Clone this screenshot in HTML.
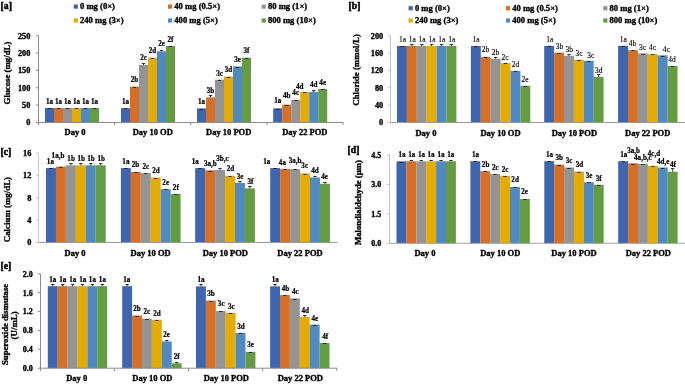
<!DOCTYPE html>
<html><head><meta charset="utf-8"><title>Figure</title>
<style>
html,body{margin:0;padding:0;background:#fff;}
body{width:685px;height:384px;overflow:hidden;}
svg{display:block;will-change:transform;}
svg text{font-family:"Liberation Serif", serif;fill:#000;stroke:#000;stroke-width:0.35px;}
svg text.nl{stroke-width:0.12px;}
svg text.bl{stroke-width:0.22px;}
svg text.tag{stroke-width:0.55px;}
</style></head>
<body>
<svg width="685" height="384" viewBox="0 0 685 384">
<rect width="685" height="384" fill="#fff"/>
<rect x="45.00" y="108.00" width="9.00" height="14.50" fill="#3E65AF"/>
<rect x="54.00" y="108.00" width="9.00" height="14.50" fill="#D57026"/>
<rect x="63.00" y="108.00" width="9.00" height="14.50" fill="#949494"/>
<rect x="72.00" y="108.00" width="9.00" height="14.50" fill="#E4AB00"/>
<rect x="81.00" y="108.00" width="9.00" height="14.50" fill="#508AC0"/>
<rect x="90.00" y="108.00" width="9.00" height="14.50" fill="#639C41"/>
<rect x="121.00" y="108.20" width="9.00" height="14.30" fill="#3E65AF"/>
<rect x="130.00" y="86.60" width="9.00" height="35.90" fill="#D57026"/>
<rect x="139.00" y="65.00" width="9.00" height="57.50" fill="#949494"/>
<rect x="148.00" y="57.60" width="9.00" height="64.90" fill="#E4AB00"/>
<rect x="157.00" y="51.30" width="9.00" height="71.20" fill="#508AC0"/>
<rect x="166.00" y="46.00" width="9.00" height="76.50" fill="#639C41"/>
<rect x="197.00" y="108.40" width="9.00" height="14.10" fill="#3E65AF"/>
<rect x="206.00" y="97.40" width="9.00" height="25.10" fill="#D57026"/>
<rect x="215.00" y="79.70" width="9.00" height="42.80" fill="#949494"/>
<rect x="224.00" y="76.50" width="9.00" height="46.00" fill="#E4AB00"/>
<rect x="233.00" y="66.40" width="9.00" height="56.10" fill="#508AC0"/>
<rect x="242.00" y="57.70" width="9.00" height="64.80" fill="#639C41"/>
<rect x="273.20" y="108.30" width="9.00" height="14.20" fill="#3E65AF"/>
<rect x="282.20" y="104.60" width="9.00" height="17.90" fill="#D57026"/>
<rect x="291.20" y="99.80" width="9.00" height="22.70" fill="#949494"/>
<rect x="300.20" y="91.90" width="9.00" height="30.60" fill="#E4AB00"/>
<rect x="309.20" y="91.90" width="9.00" height="30.60" fill="#508AC0"/>
<rect x="318.20" y="89.00" width="9.00" height="33.50" fill="#639C41"/>
<rect x="47.80" y="108" width="3.40" height="1" fill="#1a1a1a" fill-opacity="0.85"/>
<rect x="56.80" y="108" width="3.40" height="1" fill="#1a1a1a" fill-opacity="0.85"/>
<rect x="65.80" y="108" width="3.40" height="1" fill="#1a1a1a" fill-opacity="0.85"/>
<rect x="74.80" y="108" width="3.40" height="1" fill="#1a1a1a" fill-opacity="0.85"/>
<rect x="83.80" y="108" width="3.40" height="1" fill="#1a1a1a" fill-opacity="0.85"/>
<rect x="92.80" y="108" width="3.40" height="1" fill="#1a1a1a" fill-opacity="0.85"/>
<rect x="123.80" y="108" width="3.40" height="1" fill="#1a1a1a" fill-opacity="0.85"/>
<rect x="132.80" y="87" width="3.40" height="1" fill="#1a1a1a" fill-opacity="0.85"/>
<line x1="143.50" y1="65.00" x2="143.50" y2="63.20" stroke="#1a1a1a" stroke-width="0.9"/>
<rect x="141.80" y="63" width="3.40" height="1" fill="#1a1a1a" fill-opacity="0.85"/>
<rect x="150.80" y="58" width="3.40" height="1" fill="#1a1a1a" fill-opacity="0.85"/>
<line x1="161.50" y1="51.30" x2="161.50" y2="50.10" stroke="#1a1a1a" stroke-width="0.9"/>
<rect x="159.80" y="50" width="3.40" height="1" fill="#1a1a1a" fill-opacity="0.85"/>
<rect x="168.80" y="46" width="3.40" height="1" fill="#1a1a1a" fill-opacity="0.85"/>
<rect x="199.80" y="109" width="3.40" height="1" fill="#1a1a1a" fill-opacity="0.85"/>
<line x1="210.50" y1="97.40" x2="210.50" y2="95.20" stroke="#1a1a1a" stroke-width="0.9"/>
<rect x="208.80" y="95" width="3.40" height="1" fill="#1a1a1a" fill-opacity="0.85"/>
<rect x="217.80" y="80" width="3.40" height="1" fill="#1a1a1a" fill-opacity="0.85"/>
<rect x="226.80" y="77" width="3.40" height="1" fill="#1a1a1a" fill-opacity="0.85"/>
<rect x="235.80" y="67" width="3.40" height="1" fill="#1a1a1a" fill-opacity="0.85"/>
<rect x="244.80" y="58" width="3.40" height="1" fill="#1a1a1a" fill-opacity="0.85"/>
<rect x="276.00" y="109" width="3.40" height="1" fill="#1a1a1a" fill-opacity="0.85"/>
<rect x="285.00" y="105" width="3.40" height="1" fill="#1a1a1a" fill-opacity="0.85"/>
<rect x="294.00" y="100" width="3.40" height="1" fill="#1a1a1a" fill-opacity="0.85"/>
<rect x="303.00" y="92" width="3.40" height="1" fill="#1a1a1a" fill-opacity="0.85"/>
<line x1="313.70" y1="91.90" x2="313.70" y2="90.40" stroke="#1a1a1a" stroke-width="0.9"/>
<rect x="312.00" y="90" width="3.40" height="1" fill="#1a1a1a" fill-opacity="0.85"/>
<rect x="321.00" y="89" width="3.40" height="1" fill="#1a1a1a" fill-opacity="0.85"/>
<line x1="38.50" y1="35.70" x2="38.50" y2="125.10" stroke="#8C8C8C" stroke-width="1"/>
<line x1="38.50" y1="122.50" x2="343.20" y2="122.50" stroke="#8C8C8C" stroke-width="1"/>
<line x1="35.90" y1="122.50" x2="38.50" y2="122.50" stroke="#8C8C8C" stroke-width="1"/>
<text x="30.40" y="125.40" font-size="8.3" text-anchor="end" font-weight="bold" >0</text>
<line x1="35.90" y1="105.14" x2="38.50" y2="105.14" stroke="#8C8C8C" stroke-width="1"/>
<text x="30.40" y="108.04" font-size="8.3" text-anchor="end" font-weight="bold" >50</text>
<line x1="35.90" y1="87.78" x2="38.50" y2="87.78" stroke="#8C8C8C" stroke-width="1"/>
<text x="30.40" y="90.68" font-size="8.3" text-anchor="end" font-weight="bold" >100</text>
<line x1="35.90" y1="70.42" x2="38.50" y2="70.42" stroke="#8C8C8C" stroke-width="1"/>
<text x="30.40" y="73.32" font-size="8.3" text-anchor="end" font-weight="bold" >150</text>
<line x1="35.90" y1="53.06" x2="38.50" y2="53.06" stroke="#8C8C8C" stroke-width="1"/>
<text x="30.40" y="55.96" font-size="8.3" text-anchor="end" font-weight="bold" >200</text>
<line x1="35.90" y1="35.70" x2="38.50" y2="35.70" stroke="#8C8C8C" stroke-width="1"/>
<text x="30.40" y="38.60" font-size="8.3" text-anchor="end" font-weight="bold" >250</text>
<line x1="38.50" y1="122.50" x2="38.50" y2="125.10" stroke="#8C8C8C" stroke-width="1"/>
<line x1="114.70" y1="122.50" x2="114.70" y2="125.10" stroke="#8C8C8C" stroke-width="1"/>
<line x1="190.70" y1="122.50" x2="190.70" y2="125.10" stroke="#8C8C8C" stroke-width="1"/>
<line x1="266.90" y1="122.50" x2="266.90" y2="125.10" stroke="#8C8C8C" stroke-width="1"/>
<line x1="343.00" y1="122.50" x2="343.00" y2="125.10" stroke="#8C8C8C" stroke-width="1"/>
<text x="75.10" y="135.40" font-size="8.5" text-anchor="middle" font-weight="bold" >Day 0</text>
<text x="152.70" y="135.40" font-size="8.5" text-anchor="middle" font-weight="bold" >Day 10 OD</text>
<text x="228.70" y="135.40" font-size="8.5" text-anchor="middle" font-weight="bold" >Day 10 POD</text>
<text x="304.80" y="135.40" font-size="8.5" text-anchor="middle" font-weight="bold" >Day 22 POD</text>
<text transform="translate(10.40,73.00) rotate(-90)" font-size="8.8" text-anchor="middle" font-weight="bold">Glucose (mg/dL)</text>
<text transform="translate(49.50,103.70) scale(1.0,1.12)" font-size="7.1" text-anchor="middle" font-weight="bold" class="bl">1a</text>
<text transform="translate(58.50,103.70) scale(1.0,1.12)" font-size="7.1" text-anchor="middle" font-weight="bold" class="bl">1a</text>
<text transform="translate(67.50,103.70) scale(1.0,1.12)" font-size="7.1" text-anchor="middle" font-weight="bold" class="bl">1a</text>
<text transform="translate(76.50,103.70) scale(1.0,1.12)" font-size="7.1" text-anchor="middle" font-weight="bold" class="bl">1a</text>
<text transform="translate(85.50,103.70) scale(1.0,1.12)" font-size="7.1" text-anchor="middle" font-weight="bold" class="bl">1a</text>
<text transform="translate(94.50,103.70) scale(1.0,1.12)" font-size="7.1" text-anchor="middle" font-weight="bold" class="bl">1a</text>
<text transform="translate(125.50,103.70) scale(1.0,1.12)" font-size="7.1" text-anchor="middle" font-weight="bold" class="bl">1a</text>
<text transform="translate(134.50,82.00) scale(1.0,1.12)" font-size="7.1" text-anchor="middle" font-weight="bold" class="bl">2b</text>
<text transform="translate(143.50,60.00) scale(1.0,1.12)" font-size="7.1" text-anchor="middle" font-weight="bold" class="bl">2c</text>
<text transform="translate(152.50,52.80) scale(1.0,1.12)" font-size="7.1" text-anchor="middle" font-weight="bold" class="bl">2d</text>
<text transform="translate(161.50,46.40) scale(1.0,1.12)" font-size="7.1" text-anchor="middle" font-weight="bold" class="bl">2e</text>
<text transform="translate(170.50,41.70) scale(1.0,1.12)" font-size="7.1" text-anchor="middle" font-weight="bold" class="bl">2f</text>
<text transform="translate(201.50,103.80) scale(1.0,1.12)" font-size="7.1" text-anchor="middle" font-weight="bold" class="bl">1a</text>
<text transform="translate(210.50,92.80) scale(1.0,1.12)" font-size="7.1" text-anchor="middle" font-weight="bold" class="bl">3b</text>
<text transform="translate(219.50,75.50) scale(1.0,1.12)" font-size="7.1" text-anchor="middle" font-weight="bold" class="bl">3c</text>
<text transform="translate(228.50,71.90) scale(1.0,1.12)" font-size="7.1" text-anchor="middle" font-weight="bold" class="bl">3d</text>
<text transform="translate(237.50,61.50) scale(1.0,1.12)" font-size="7.1" text-anchor="middle" font-weight="bold" class="bl">3e</text>
<text transform="translate(246.50,53.30) scale(1.0,1.12)" font-size="7.1" text-anchor="middle" font-weight="bold" class="bl">3f</text>
<text transform="translate(277.70,103.40) scale(1.0,1.12)" font-size="7.1" text-anchor="middle" font-weight="bold" class="bl">1a</text>
<text transform="translate(286.70,97.60) scale(1.0,1.12)" font-size="7.1" text-anchor="middle" font-weight="bold" class="bl">4b</text>
<text transform="translate(295.70,95.20) scale(1.0,1.12)" font-size="7.1" text-anchor="middle" font-weight="bold" class="bl">4c</text>
<text transform="translate(299.70,88.90) scale(1.0,1.12)" font-size="7.1" text-anchor="middle" font-weight="bold" class="bl">4d</text>
<text transform="translate(313.70,87.00) scale(1.0,1.12)" font-size="7.1" text-anchor="middle" font-weight="bold" class="bl">4d</text>
<text transform="translate(322.70,84.60) scale(1.0,1.12)" font-size="7.1" text-anchor="middle" font-weight="bold" class="bl">4e</text>
<text x="0.60" y="8.80" font-size="9.7" text-anchor="start" font-weight="bold" class="tag">[a]</text>
<rect x="397.00" y="46.00" width="9.90" height="76.50" fill="#3E65AF"/>
<rect x="406.90" y="46.00" width="9.90" height="76.50" fill="#D57026"/>
<rect x="416.80" y="46.00" width="9.90" height="76.50" fill="#949494"/>
<rect x="426.70" y="46.00" width="9.90" height="76.50" fill="#E4AB00"/>
<rect x="436.60" y="46.00" width="9.90" height="76.50" fill="#508AC0"/>
<rect x="446.50" y="46.00" width="9.90" height="76.50" fill="#639C41"/>
<rect x="470.90" y="45.90" width="9.90" height="76.60" fill="#3E65AF"/>
<rect x="480.80" y="56.90" width="9.90" height="65.60" fill="#D57026"/>
<rect x="490.70" y="58.90" width="9.90" height="63.60" fill="#949494"/>
<rect x="500.60" y="63.10" width="9.90" height="59.40" fill="#E4AB00"/>
<rect x="510.50" y="70.90" width="9.90" height="51.60" fill="#508AC0"/>
<rect x="520.40" y="85.80" width="9.90" height="36.70" fill="#639C41"/>
<rect x="544.20" y="45.90" width="9.90" height="76.60" fill="#3E65AF"/>
<rect x="554.10" y="52.70" width="9.90" height="69.80" fill="#D57026"/>
<rect x="564.00" y="55.80" width="9.90" height="66.70" fill="#949494"/>
<rect x="573.90" y="59.70" width="9.90" height="62.80" fill="#E4AB00"/>
<rect x="583.80" y="60.80" width="9.90" height="61.70" fill="#508AC0"/>
<rect x="593.70" y="76.90" width="9.90" height="45.60" fill="#639C41"/>
<rect x="618.10" y="45.90" width="9.90" height="76.60" fill="#3E65AF"/>
<rect x="628.00" y="50.20" width="9.90" height="72.30" fill="#D57026"/>
<rect x="637.90" y="53.40" width="9.90" height="69.10" fill="#949494"/>
<rect x="647.80" y="54.10" width="9.90" height="68.40" fill="#E4AB00"/>
<rect x="657.70" y="55.30" width="9.90" height="67.20" fill="#508AC0"/>
<rect x="667.60" y="65.90" width="9.90" height="56.60" fill="#639C41"/>
<rect x="400.25" y="46" width="3.40" height="1" fill="#1a1a1a" fill-opacity="0.85"/>
<line x1="411.85" y1="46.00" x2="411.85" y2="44.60" stroke="#1a1a1a" stroke-width="0.9"/>
<rect x="410.15" y="44" width="3.40" height="1" fill="#1a1a1a" fill-opacity="0.85"/>
<line x1="421.75" y1="46.00" x2="421.75" y2="44.60" stroke="#1a1a1a" stroke-width="0.9"/>
<rect x="420.05" y="44" width="3.40" height="1" fill="#1a1a1a" fill-opacity="0.85"/>
<line x1="431.65" y1="46.00" x2="431.65" y2="44.60" stroke="#1a1a1a" stroke-width="0.9"/>
<rect x="429.95" y="44" width="3.40" height="1" fill="#1a1a1a" fill-opacity="0.85"/>
<line x1="441.55" y1="46.00" x2="441.55" y2="44.60" stroke="#1a1a1a" stroke-width="0.9"/>
<rect x="439.85" y="44" width="3.40" height="1" fill="#1a1a1a" fill-opacity="0.85"/>
<line x1="451.45" y1="46.00" x2="451.45" y2="44.60" stroke="#1a1a1a" stroke-width="0.9"/>
<rect x="449.75" y="44" width="3.40" height="1" fill="#1a1a1a" fill-opacity="0.85"/>
<rect x="474.15" y="46" width="3.40" height="1" fill="#1a1a1a" fill-opacity="0.85"/>
<rect x="484.05" y="57" width="3.40" height="1" fill="#1a1a1a" fill-opacity="0.85"/>
<line x1="495.65" y1="58.90" x2="495.65" y2="57.60" stroke="#1a1a1a" stroke-width="0.9"/>
<rect x="493.95" y="57" width="3.40" height="1" fill="#1a1a1a" fill-opacity="0.85"/>
<rect x="503.85" y="63" width="3.40" height="1" fill="#1a1a1a" fill-opacity="0.85"/>
<rect x="513.75" y="71" width="3.40" height="1" fill="#1a1a1a" fill-opacity="0.85"/>
<rect x="523.65" y="86" width="3.40" height="1" fill="#1a1a1a" fill-opacity="0.85"/>
<rect x="547.45" y="46" width="3.40" height="1" fill="#1a1a1a" fill-opacity="0.85"/>
<rect x="557.35" y="53" width="3.40" height="1" fill="#1a1a1a" fill-opacity="0.85"/>
<line x1="568.95" y1="55.80" x2="568.95" y2="54.50" stroke="#1a1a1a" stroke-width="0.9"/>
<rect x="567.25" y="54" width="3.40" height="1" fill="#1a1a1a" fill-opacity="0.85"/>
<rect x="577.15" y="60" width="3.40" height="1" fill="#1a1a1a" fill-opacity="0.85"/>
<rect x="587.05" y="61" width="3.40" height="1" fill="#1a1a1a" fill-opacity="0.85"/>
<line x1="598.65" y1="76.90" x2="598.65" y2="74.10" stroke="#1a1a1a" stroke-width="0.9"/>
<rect x="596.95" y="74" width="3.40" height="1" fill="#1a1a1a" fill-opacity="0.85"/>
<rect x="621.35" y="46" width="3.40" height="1" fill="#1a1a1a" fill-opacity="0.85"/>
<rect x="631.25" y="50" width="3.40" height="1" fill="#1a1a1a" fill-opacity="0.85"/>
<rect x="641.15" y="54" width="3.40" height="1" fill="#1a1a1a" fill-opacity="0.85"/>
<rect x="651.05" y="54" width="3.40" height="1" fill="#1a1a1a" fill-opacity="0.85"/>
<rect x="660.95" y="56" width="3.40" height="1" fill="#1a1a1a" fill-opacity="0.85"/>
<rect x="670.85" y="66" width="3.40" height="1" fill="#1a1a1a" fill-opacity="0.85"/>
<line x1="390.50" y1="35.70" x2="390.50" y2="122.50" stroke="#C4C4C4" stroke-width="1"/>
<line x1="390.50" y1="122.50" x2="685.00" y2="122.50" stroke="#9A9A9A" stroke-width="1"/>
<line x1="387.90" y1="122.50" x2="390.50" y2="122.50" stroke="#C4C4C4" stroke-width="1"/>
<text x="383.20" y="125.40" font-size="8.3" text-anchor="end" font-weight="bold" >0</text>
<line x1="387.90" y1="105.14" x2="390.50" y2="105.14" stroke="#C4C4C4" stroke-width="1"/>
<text x="383.20" y="108.04" font-size="8.3" text-anchor="end" font-weight="bold" >40</text>
<line x1="387.90" y1="87.78" x2="390.50" y2="87.78" stroke="#C4C4C4" stroke-width="1"/>
<text x="383.20" y="90.68" font-size="8.3" text-anchor="end" font-weight="bold" >80</text>
<line x1="387.90" y1="70.42" x2="390.50" y2="70.42" stroke="#C4C4C4" stroke-width="1"/>
<text x="383.20" y="73.32" font-size="8.3" text-anchor="end" font-weight="bold" >120</text>
<line x1="387.90" y1="53.06" x2="390.50" y2="53.06" stroke="#C4C4C4" stroke-width="1"/>
<text x="383.20" y="55.96" font-size="8.3" text-anchor="end" font-weight="bold" >160</text>
<line x1="387.90" y1="35.70" x2="390.50" y2="35.70" stroke="#C4C4C4" stroke-width="1"/>
<text x="383.20" y="38.60" font-size="8.3" text-anchor="end" font-weight="bold" >200</text>
<text x="426.00" y="135.60" font-size="8.5" text-anchor="middle" font-weight="bold" >Day 0</text>
<text x="500.50" y="135.60" font-size="8.5" text-anchor="middle" font-weight="bold" >Day 10 OD</text>
<text x="574.40" y="135.60" font-size="8.5" text-anchor="middle" font-weight="bold" >Day 10 POD</text>
<text x="647.70" y="135.60" font-size="8.5" text-anchor="middle" font-weight="bold" >Day 22 POD</text>
<text transform="translate(359.30,70.00) rotate(-90)" font-size="8.9" text-anchor="middle" font-weight="bold">Chloride (mmol/L)</text>
<text transform="translate(402.43,41.60) scale(1.0,1.12)" font-size="7.5" text-anchor="middle" font-weight="normal" class="nl">1a</text>
<text transform="translate(412.27,41.60) scale(1.0,1.12)" font-size="7.5" text-anchor="middle" font-weight="normal" class="nl">1a</text>
<text transform="translate(422.12,41.60) scale(1.0,1.12)" font-size="7.5" text-anchor="middle" font-weight="normal" class="nl">1a</text>
<text transform="translate(431.98,41.60) scale(1.0,1.12)" font-size="7.5" text-anchor="middle" font-weight="normal" class="nl">1a</text>
<text transform="translate(441.82,41.60) scale(1.0,1.12)" font-size="7.5" text-anchor="middle" font-weight="normal" class="nl">1a</text>
<text transform="translate(451.68,41.60) scale(1.0,1.12)" font-size="7.5" text-anchor="middle" font-weight="normal" class="nl">1a</text>
<text transform="translate(476.00,41.75) scale(1.0,1.12)" font-size="7.5" text-anchor="middle" font-weight="normal" class="nl">1a</text>
<text transform="translate(485.50,52.40) scale(1.0,1.12)" font-size="7.5" text-anchor="middle" font-weight="normal" class="nl">2b</text>
<text transform="translate(495.50,55.00) scale(1.0,1.12)" font-size="7.5" text-anchor="middle" font-weight="normal" class="nl">2b</text>
<text transform="translate(505.00,59.70) scale(1.0,1.12)" font-size="7.5" text-anchor="middle" font-weight="normal" class="nl">2c</text>
<text transform="translate(515.40,66.75) scale(1.0,1.12)" font-size="7.5" text-anchor="middle" font-weight="normal" class="nl">2d</text>
<text transform="translate(525.00,82.10) scale(1.0,1.12)" font-size="7.5" text-anchor="middle" font-weight="normal" class="nl">2e</text>
<text transform="translate(549.80,41.75) scale(1.0,1.12)" font-size="7.5" text-anchor="middle" font-weight="normal" class="nl">1a</text>
<text transform="translate(559.50,48.80) scale(1.0,1.12)" font-size="7.5" text-anchor="middle" font-weight="normal" class="nl">3b</text>
<text transform="translate(569.30,51.90) scale(1.0,1.12)" font-size="7.5" text-anchor="middle" font-weight="normal" class="nl">3b</text>
<text transform="translate(579.00,55.80) scale(1.0,1.12)" font-size="7.5" text-anchor="middle" font-weight="normal" class="nl">3c</text>
<text transform="translate(590.80,58.20) scale(1.0,1.12)" font-size="7.5" text-anchor="middle" font-weight="normal" class="nl">3c</text>
<text transform="translate(598.80,73.00) scale(1.0,1.12)" font-size="7.5" text-anchor="middle" font-weight="normal" class="nl">3d</text>
<text transform="translate(623.30,41.75) scale(1.0,1.12)" font-size="7.5" text-anchor="middle" font-weight="normal" class="nl">1a</text>
<text transform="translate(632.60,46.10) scale(1.0,1.12)" font-size="7.5" text-anchor="middle" font-weight="normal" class="nl">4b</text>
<text transform="translate(642.60,49.90) scale(1.0,1.12)" font-size="7.5" text-anchor="middle" font-weight="normal" class="nl">3c</text>
<text transform="translate(652.50,50.30) scale(1.0,1.12)" font-size="7.5" text-anchor="middle" font-weight="normal" class="nl">4c</text>
<text transform="translate(666.20,51.90) scale(1.0,1.12)" font-size="7.5" text-anchor="middle" font-weight="normal" class="nl">4c</text>
<text transform="translate(672.10,62.10) scale(1.0,1.12)" font-size="7.5" text-anchor="middle" font-weight="normal" class="nl">4d</text>
<text x="348.60" y="9.20" font-size="9.7" text-anchor="start" font-weight="bold" class="tag">[b]</text>
<rect x="46.00" y="168.10" width="9.95" height="74.40" fill="#3E65AF"/>
<rect x="55.95" y="166.60" width="9.95" height="75.90" fill="#D57026"/>
<rect x="65.90" y="165.30" width="9.95" height="77.20" fill="#949494"/>
<rect x="75.85" y="165.30" width="9.95" height="77.20" fill="#E4AB00"/>
<rect x="85.80" y="165.30" width="9.95" height="77.20" fill="#508AC0"/>
<rect x="95.75" y="165.30" width="9.95" height="77.20" fill="#639C41"/>
<rect x="120.90" y="168.10" width="9.95" height="74.40" fill="#3E65AF"/>
<rect x="130.85" y="171.90" width="9.95" height="70.60" fill="#D57026"/>
<rect x="140.80" y="173.10" width="9.95" height="69.40" fill="#949494"/>
<rect x="150.75" y="177.50" width="9.95" height="65.00" fill="#E4AB00"/>
<rect x="160.70" y="189.10" width="9.95" height="53.40" fill="#508AC0"/>
<rect x="170.65" y="193.90" width="9.95" height="48.60" fill="#639C41"/>
<rect x="195.20" y="168.10" width="9.95" height="74.40" fill="#3E65AF"/>
<rect x="205.15" y="170.30" width="9.95" height="72.20" fill="#D57026"/>
<rect x="215.10" y="170.00" width="9.95" height="72.50" fill="#949494"/>
<rect x="225.05" y="175.80" width="9.95" height="66.70" fill="#E4AB00"/>
<rect x="235.00" y="183.00" width="9.95" height="59.50" fill="#508AC0"/>
<rect x="244.95" y="188.40" width="9.95" height="54.10" fill="#639C41"/>
<rect x="270.20" y="168.10" width="9.95" height="74.40" fill="#3E65AF"/>
<rect x="280.15" y="168.90" width="9.95" height="73.60" fill="#D57026"/>
<rect x="290.10" y="169.10" width="9.95" height="73.40" fill="#949494"/>
<rect x="300.05" y="173.40" width="9.95" height="69.10" fill="#E4AB00"/>
<rect x="310.00" y="177.50" width="9.95" height="65.00" fill="#508AC0"/>
<rect x="319.95" y="183.75" width="9.95" height="58.75" fill="#639C41"/>
<rect x="49.27" y="168" width="3.40" height="1" fill="#1a1a1a" fill-opacity="0.85"/>
<rect x="59.22" y="167" width="3.40" height="1" fill="#1a1a1a" fill-opacity="0.85"/>
<line x1="70.88" y1="165.30" x2="70.88" y2="163.90" stroke="#1a1a1a" stroke-width="0.9"/>
<rect x="69.17" y="163" width="3.40" height="1" fill="#1a1a1a" fill-opacity="0.85"/>
<line x1="80.82" y1="165.30" x2="80.82" y2="163.90" stroke="#1a1a1a" stroke-width="0.9"/>
<rect x="79.12" y="163" width="3.40" height="1" fill="#1a1a1a" fill-opacity="0.85"/>
<line x1="90.78" y1="165.30" x2="90.78" y2="163.90" stroke="#1a1a1a" stroke-width="0.9"/>
<rect x="89.08" y="163" width="3.40" height="1" fill="#1a1a1a" fill-opacity="0.85"/>
<line x1="100.72" y1="165.30" x2="100.72" y2="163.90" stroke="#1a1a1a" stroke-width="0.9"/>
<rect x="99.02" y="163" width="3.40" height="1" fill="#1a1a1a" fill-opacity="0.85"/>
<rect x="124.17" y="168" width="3.40" height="1" fill="#1a1a1a" fill-opacity="0.85"/>
<rect x="134.13" y="172" width="3.40" height="1" fill="#1a1a1a" fill-opacity="0.85"/>
<rect x="144.08" y="173" width="3.40" height="1" fill="#1a1a1a" fill-opacity="0.85"/>
<rect x="154.03" y="178" width="3.40" height="1" fill="#1a1a1a" fill-opacity="0.85"/>
<rect x="163.98" y="189" width="3.40" height="1" fill="#1a1a1a" fill-opacity="0.85"/>
<rect x="173.93" y="194" width="3.40" height="1" fill="#1a1a1a" fill-opacity="0.85"/>
<rect x="198.47" y="168" width="3.40" height="1" fill="#1a1a1a" fill-opacity="0.85"/>
<rect x="208.43" y="171" width="3.40" height="1" fill="#1a1a1a" fill-opacity="0.85"/>
<line x1="220.07" y1="170.00" x2="220.07" y2="168.50" stroke="#1a1a1a" stroke-width="0.9"/>
<rect x="218.38" y="168" width="3.40" height="1" fill="#1a1a1a" fill-opacity="0.85"/>
<rect x="228.32" y="176" width="3.40" height="1" fill="#1a1a1a" fill-opacity="0.85"/>
<line x1="239.97" y1="183.00" x2="239.97" y2="181.50" stroke="#1a1a1a" stroke-width="0.9"/>
<rect x="238.28" y="181" width="3.40" height="1" fill="#1a1a1a" fill-opacity="0.85"/>
<line x1="249.92" y1="188.40" x2="249.92" y2="186.90" stroke="#1a1a1a" stroke-width="0.9"/>
<rect x="248.22" y="186" width="3.40" height="1" fill="#1a1a1a" fill-opacity="0.85"/>
<rect x="273.48" y="168" width="3.40" height="1" fill="#1a1a1a" fill-opacity="0.85"/>
<rect x="283.43" y="169" width="3.40" height="1" fill="#1a1a1a" fill-opacity="0.85"/>
<rect x="293.38" y="169" width="3.40" height="1" fill="#1a1a1a" fill-opacity="0.85"/>
<rect x="303.32" y="174" width="3.40" height="1" fill="#1a1a1a" fill-opacity="0.85"/>
<line x1="314.97" y1="177.50" x2="314.97" y2="176.10" stroke="#1a1a1a" stroke-width="0.9"/>
<rect x="313.27" y="176" width="3.40" height="1" fill="#1a1a1a" fill-opacity="0.85"/>
<line x1="324.92" y1="183.75" x2="324.92" y2="182.25" stroke="#1a1a1a" stroke-width="0.9"/>
<rect x="323.22" y="182" width="3.40" height="1" fill="#1a1a1a" fill-opacity="0.85"/>
<line x1="38.50" y1="152.80" x2="38.50" y2="242.50" stroke="#C8C8C8" stroke-width="1"/>
<line x1="38.50" y1="242.50" x2="337.30" y2="242.50" stroke="#9A9A9A" stroke-width="1"/>
<line x1="35.90" y1="242.50" x2="38.50" y2="242.50" stroke="#C8C8C8" stroke-width="1"/>
<text x="31.30" y="245.40" font-size="8.3" text-anchor="end" font-weight="bold" >0</text>
<line x1="35.90" y1="220.07" x2="38.50" y2="220.07" stroke="#C8C8C8" stroke-width="1"/>
<text x="31.30" y="222.97" font-size="8.3" text-anchor="end" font-weight="bold" >4</text>
<line x1="35.90" y1="197.65" x2="38.50" y2="197.65" stroke="#C8C8C8" stroke-width="1"/>
<text x="31.30" y="200.55" font-size="8.3" text-anchor="end" font-weight="bold" >8</text>
<line x1="35.90" y1="175.23" x2="38.50" y2="175.23" stroke="#C8C8C8" stroke-width="1"/>
<text x="31.30" y="178.13" font-size="8.3" text-anchor="end" font-weight="bold" >12</text>
<line x1="35.90" y1="152.80" x2="38.50" y2="152.80" stroke="#C8C8C8" stroke-width="1"/>
<text x="31.30" y="155.70" font-size="8.3" text-anchor="end" font-weight="bold" >16</text>
<text x="75.10" y="256.00" font-size="8.5" text-anchor="middle" font-weight="bold" >Day 0</text>
<text x="150.60" y="256.00" font-size="8.5" text-anchor="middle" font-weight="bold" >Day 10 OD</text>
<text x="225.30" y="256.00" font-size="8.5" text-anchor="middle" font-weight="bold" >Day 10 POD</text>
<text x="300.00" y="256.00" font-size="8.5" text-anchor="middle" font-weight="bold" >Day 22 POD</text>
<text transform="translate(10.40,209.60) rotate(-90)" font-size="8.9" text-anchor="middle" font-weight="bold">Calcium (mg/dL)</text>
<text transform="translate(50.40,163.75) scale(1.0,1.12)" font-size="7.1" text-anchor="middle" font-weight="bold" class="bl">1a</text>
<text transform="translate(58.00,158.00) scale(1.0,1.12)" font-size="7.1" text-anchor="middle" font-weight="bold" class="bl">1a,b</text>
<text transform="translate(71.10,161.10) scale(1.0,1.12)" font-size="7.1" text-anchor="middle" font-weight="bold" class="bl">1b</text>
<text transform="translate(81.20,161.10) scale(1.0,1.12)" font-size="7.1" text-anchor="middle" font-weight="bold" class="bl">1b</text>
<text transform="translate(91.00,161.10) scale(1.0,1.12)" font-size="7.1" text-anchor="middle" font-weight="bold" class="bl">1b</text>
<text transform="translate(101.30,161.10) scale(1.0,1.12)" font-size="7.1" text-anchor="middle" font-weight="bold" class="bl">1b</text>
<text transform="translate(125.90,163.75) scale(1.0,1.12)" font-size="7.1" text-anchor="middle" font-weight="bold" class="bl">1a</text>
<text transform="translate(135.40,166.90) scale(1.0,1.12)" font-size="7.1" text-anchor="middle" font-weight="bold" class="bl">2b</text>
<text transform="translate(145.80,168.75) scale(1.0,1.12)" font-size="7.1" text-anchor="middle" font-weight="bold" class="bl">2c</text>
<text transform="translate(155.90,173.10) scale(1.0,1.12)" font-size="7.1" text-anchor="middle" font-weight="bold" class="bl">2d</text>
<text transform="translate(165.70,184.80) scale(1.0,1.12)" font-size="7.1" text-anchor="middle" font-weight="bold" class="bl">2e</text>
<text transform="translate(175.80,190.00) scale(1.0,1.12)" font-size="7.1" text-anchor="middle" font-weight="bold" class="bl">2f</text>
<text transform="translate(195.20,163.75) scale(1.0,1.12)" font-size="7.1" text-anchor="middle" font-weight="bold" class="bl">1a</text>
<text transform="translate(210.40,166.00) scale(1.0,1.12)" font-size="7.1" text-anchor="middle" font-weight="bold" class="bl">3a,b</text>
<text transform="translate(222.50,161.40) scale(1.0,1.12)" font-size="7.1" text-anchor="middle" font-weight="bold" class="bl">3b,c</text>
<text transform="translate(230.50,171.25) scale(1.0,1.12)" font-size="7.1" text-anchor="middle" font-weight="bold" class="bl">2d</text>
<text transform="translate(240.00,178.60) scale(1.0,1.12)" font-size="7.1" text-anchor="middle" font-weight="bold" class="bl">3e</text>
<text transform="translate(250.40,184.00) scale(1.0,1.12)" font-size="7.1" text-anchor="middle" font-weight="bold" class="bl">3f</text>
<text transform="translate(266.80,163.75) scale(1.0,1.12)" font-size="7.1" text-anchor="middle" font-weight="bold" class="bl">1a</text>
<text transform="translate(282.40,165.30) scale(1.0,1.12)" font-size="7.1" text-anchor="middle" font-weight="bold" class="bl">4a</text>
<text transform="translate(295.10,163.00) scale(1.0,1.12)" font-size="7.1" text-anchor="middle" font-weight="bold" class="bl">3a,b</text>
<text transform="translate(304.70,168.40) scale(1.0,1.12)" font-size="7.1" text-anchor="middle" font-weight="bold" class="bl">3c</text>
<text transform="translate(314.90,173.10) scale(1.0,1.12)" font-size="7.1" text-anchor="middle" font-weight="bold" class="bl">4d</text>
<text transform="translate(324.50,179.00) scale(1.0,1.12)" font-size="7.1" text-anchor="middle" font-weight="bold" class="bl">4e</text>
<text x="0.60" y="155.20" font-size="9.7" text-anchor="start" font-weight="bold" class="tag">[c]</text>
<rect x="396.50" y="161.30" width="9.90" height="82.00" fill="#3E65AF"/>
<rect x="406.40" y="161.30" width="9.90" height="82.00" fill="#D57026"/>
<rect x="416.30" y="161.30" width="9.90" height="82.00" fill="#949494"/>
<rect x="426.20" y="161.30" width="9.90" height="82.00" fill="#E4AB00"/>
<rect x="436.10" y="161.30" width="9.90" height="82.00" fill="#508AC0"/>
<rect x="446.00" y="161.30" width="9.90" height="82.00" fill="#639C41"/>
<rect x="470.40" y="161.20" width="9.90" height="82.10" fill="#3E65AF"/>
<rect x="480.30" y="171.20" width="9.90" height="72.10" fill="#D57026"/>
<rect x="490.20" y="174.00" width="9.90" height="69.30" fill="#949494"/>
<rect x="500.10" y="175.80" width="9.90" height="67.50" fill="#E4AB00"/>
<rect x="510.00" y="186.90" width="9.90" height="56.40" fill="#508AC0"/>
<rect x="519.90" y="199.00" width="9.90" height="44.30" fill="#639C41"/>
<rect x="544.30" y="161.20" width="9.90" height="82.10" fill="#3E65AF"/>
<rect x="554.20" y="164.60" width="9.90" height="78.70" fill="#D57026"/>
<rect x="564.10" y="167.50" width="9.90" height="75.80" fill="#949494"/>
<rect x="574.00" y="171.50" width="9.90" height="71.80" fill="#E4AB00"/>
<rect x="583.90" y="182.20" width="9.90" height="61.10" fill="#508AC0"/>
<rect x="593.80" y="184.80" width="9.90" height="58.50" fill="#639C41"/>
<rect x="618.20" y="161.20" width="9.90" height="82.10" fill="#3E65AF"/>
<rect x="628.10" y="163.30" width="9.90" height="80.00" fill="#D57026"/>
<rect x="638.00" y="163.90" width="9.90" height="79.40" fill="#949494"/>
<rect x="647.90" y="165.80" width="9.90" height="77.50" fill="#E4AB00"/>
<rect x="657.80" y="167.50" width="9.90" height="75.80" fill="#508AC0"/>
<rect x="667.70" y="171.80" width="9.90" height="71.50" fill="#639C41"/>
<rect x="399.75" y="162" width="3.40" height="1" fill="#1a1a1a" fill-opacity="0.85"/>
<line x1="411.35" y1="161.30" x2="411.35" y2="160.10" stroke="#1a1a1a" stroke-width="0.9"/>
<rect x="409.65" y="160" width="3.40" height="1" fill="#1a1a1a" fill-opacity="0.85"/>
<line x1="421.25" y1="161.30" x2="421.25" y2="160.10" stroke="#1a1a1a" stroke-width="0.9"/>
<rect x="419.55" y="160" width="3.40" height="1" fill="#1a1a1a" fill-opacity="0.85"/>
<line x1="431.15" y1="161.30" x2="431.15" y2="160.10" stroke="#1a1a1a" stroke-width="0.9"/>
<rect x="429.45" y="160" width="3.40" height="1" fill="#1a1a1a" fill-opacity="0.85"/>
<line x1="441.05" y1="161.30" x2="441.05" y2="160.10" stroke="#1a1a1a" stroke-width="0.9"/>
<rect x="439.35" y="160" width="3.40" height="1" fill="#1a1a1a" fill-opacity="0.85"/>
<line x1="450.95" y1="161.30" x2="450.95" y2="160.10" stroke="#1a1a1a" stroke-width="0.9"/>
<rect x="449.25" y="160" width="3.40" height="1" fill="#1a1a1a" fill-opacity="0.85"/>
<rect x="473.65" y="161" width="3.40" height="1" fill="#1a1a1a" fill-opacity="0.85"/>
<rect x="483.55" y="171" width="3.40" height="1" fill="#1a1a1a" fill-opacity="0.85"/>
<rect x="493.45" y="174" width="3.40" height="1" fill="#1a1a1a" fill-opacity="0.85"/>
<rect x="503.35" y="176" width="3.40" height="1" fill="#1a1a1a" fill-opacity="0.85"/>
<rect x="513.25" y="187" width="3.40" height="1" fill="#1a1a1a" fill-opacity="0.85"/>
<rect x="523.15" y="199" width="3.40" height="1" fill="#1a1a1a" fill-opacity="0.85"/>
<rect x="547.55" y="161" width="3.40" height="1" fill="#1a1a1a" fill-opacity="0.85"/>
<rect x="557.45" y="165" width="3.40" height="1" fill="#1a1a1a" fill-opacity="0.85"/>
<rect x="567.35" y="168" width="3.40" height="1" fill="#1a1a1a" fill-opacity="0.85"/>
<rect x="577.25" y="172" width="3.40" height="1" fill="#1a1a1a" fill-opacity="0.85"/>
<rect x="587.15" y="182" width="3.40" height="1" fill="#1a1a1a" fill-opacity="0.85"/>
<rect x="597.05" y="185" width="3.40" height="1" fill="#1a1a1a" fill-opacity="0.85"/>
<rect x="621.45" y="161" width="3.40" height="1" fill="#1a1a1a" fill-opacity="0.85"/>
<rect x="631.35" y="164" width="3.40" height="1" fill="#1a1a1a" fill-opacity="0.85"/>
<rect x="641.25" y="164" width="3.40" height="1" fill="#1a1a1a" fill-opacity="0.85"/>
<rect x="651.15" y="166" width="3.40" height="1" fill="#1a1a1a" fill-opacity="0.85"/>
<rect x="661.05" y="168" width="3.40" height="1" fill="#1a1a1a" fill-opacity="0.85"/>
<line x1="672.65" y1="171.80" x2="672.65" y2="168.80" stroke="#1a1a1a" stroke-width="0.9"/>
<rect x="670.95" y="168" width="3.40" height="1" fill="#1a1a1a" fill-opacity="0.85"/>
<line x1="389.50" y1="155.00" x2="389.50" y2="243.30" stroke="#C4C4C4" stroke-width="1"/>
<line x1="389.50" y1="243.30" x2="685.00" y2="243.30" stroke="#A0A0A0" stroke-width="1"/>
<line x1="386.90" y1="243.30" x2="389.50" y2="243.30" stroke="#C4C4C4" stroke-width="1"/>
<text x="381.20" y="246.20" font-size="8.0" text-anchor="end" font-weight="bold" >0.0</text>
<line x1="386.90" y1="213.87" x2="389.50" y2="213.87" stroke="#C4C4C4" stroke-width="1"/>
<text x="381.20" y="216.77" font-size="8.0" text-anchor="end" font-weight="bold" >1.5</text>
<line x1="386.90" y1="184.43" x2="389.50" y2="184.43" stroke="#C4C4C4" stroke-width="1"/>
<text x="381.20" y="187.33" font-size="8.0" text-anchor="end" font-weight="bold" >3.0</text>
<line x1="386.90" y1="155.00" x2="389.50" y2="155.00" stroke="#C4C4C4" stroke-width="1"/>
<text x="381.20" y="157.90" font-size="8.0" text-anchor="end" font-weight="bold" >4.5</text>
<text x="425.00" y="256.40" font-size="8.5" text-anchor="middle" font-weight="bold" >Day 0</text>
<text x="500.20" y="256.40" font-size="8.5" text-anchor="middle" font-weight="bold" >Day 10 OD</text>
<text x="574.00" y="256.40" font-size="8.5" text-anchor="middle" font-weight="bold" >Day 10 POD</text>
<text x="648.30" y="256.40" font-size="8.5" text-anchor="middle" font-weight="bold" >Day 22 POD</text>
<text transform="translate(360.80,202.60) rotate(-90)" font-size="8.7" text-anchor="middle" font-weight="bold">Malondialdehyde (&#181;m)</text>
<text transform="translate(402.00,156.70) scale(1.0,1.12)" font-size="7.1" text-anchor="middle" font-weight="bold" class="bl">1a</text>
<text transform="translate(411.70,156.70) scale(1.0,1.12)" font-size="7.1" text-anchor="middle" font-weight="bold" class="bl">1a</text>
<text transform="translate(421.50,156.70) scale(1.0,1.12)" font-size="7.1" text-anchor="middle" font-weight="bold" class="bl">1a</text>
<text transform="translate(431.10,156.70) scale(1.0,1.12)" font-size="7.1" text-anchor="middle" font-weight="bold" class="bl">1a</text>
<text transform="translate(441.00,156.70) scale(1.0,1.12)" font-size="7.1" text-anchor="middle" font-weight="bold" class="bl">1a</text>
<text transform="translate(450.70,156.70) scale(1.0,1.12)" font-size="7.1" text-anchor="middle" font-weight="bold" class="bl">1a</text>
<text transform="translate(475.60,156.90) scale(1.0,1.12)" font-size="7.1" text-anchor="middle" font-weight="bold" class="bl">1a</text>
<text transform="translate(485.60,166.50) scale(1.0,1.12)" font-size="7.1" text-anchor="middle" font-weight="bold" class="bl">2b</text>
<text transform="translate(495.40,169.75) scale(1.0,1.12)" font-size="7.1" text-anchor="middle" font-weight="bold" class="bl">2c</text>
<text transform="translate(505.00,171.50) scale(1.0,1.12)" font-size="7.1" text-anchor="middle" font-weight="bold" class="bl">2c</text>
<text transform="translate(515.10,182.20) scale(1.0,1.12)" font-size="7.1" text-anchor="middle" font-weight="bold" class="bl">2d</text>
<text transform="translate(524.60,194.40) scale(1.0,1.12)" font-size="7.1" text-anchor="middle" font-weight="bold" class="bl">2e</text>
<text transform="translate(549.50,156.90) scale(1.0,1.12)" font-size="7.1" text-anchor="middle" font-weight="bold" class="bl">1a</text>
<text transform="translate(559.30,160.00) scale(1.0,1.12)" font-size="7.1" text-anchor="middle" font-weight="bold" class="bl">3b</text>
<text transform="translate(569.10,163.20) scale(1.0,1.12)" font-size="7.1" text-anchor="middle" font-weight="bold" class="bl">3c</text>
<text transform="translate(579.40,166.90) scale(1.0,1.12)" font-size="7.1" text-anchor="middle" font-weight="bold" class="bl">3d</text>
<text transform="translate(589.10,177.90) scale(1.0,1.12)" font-size="7.1" text-anchor="middle" font-weight="bold" class="bl">3e</text>
<text transform="translate(598.70,180.80) scale(1.0,1.12)" font-size="7.1" text-anchor="middle" font-weight="bold" class="bl">3f</text>
<text transform="translate(623.80,156.90) scale(1.0,1.12)" font-size="7.1" text-anchor="middle" font-weight="bold" class="bl">1a</text>
<text transform="translate(633.60,152.90) scale(1.0,1.12)" font-size="7.1" text-anchor="middle" font-weight="bold" class="bl">3a,b</text>
<text transform="translate(642.90,160.00) scale(1.0,1.12)" font-size="7.1" text-anchor="middle" font-weight="bold" class="bl">4a,b,c</text>
<text transform="translate(653.90,156.00) scale(1.0,1.12)" font-size="7.1" text-anchor="middle" font-weight="bold" class="bl">4c,d</text>
<text transform="translate(663.10,163.60) scale(1.0,1.12)" font-size="7.1" text-anchor="middle" font-weight="bold" class="bl">4d,e</text>
<text transform="translate(673.00,166.50) scale(1.0,1.12)" font-size="7.1" text-anchor="middle" font-weight="bold" class="bl">4f</text>
<text x="347.60" y="153.00" font-size="9.7" text-anchor="start" font-weight="bold" class="tag">[d]</text>
<rect x="47.80" y="286.20" width="9.90" height="82.00" fill="#3E65AF"/>
<rect x="57.70" y="286.20" width="9.90" height="82.00" fill="#D57026"/>
<rect x="67.60" y="286.20" width="9.90" height="82.00" fill="#949494"/>
<rect x="77.50" y="286.20" width="9.90" height="82.00" fill="#E4AB00"/>
<rect x="87.40" y="286.20" width="9.90" height="82.00" fill="#508AC0"/>
<rect x="97.30" y="286.20" width="9.90" height="82.00" fill="#639C41"/>
<rect x="122.20" y="286.20" width="9.90" height="82.00" fill="#3E65AF"/>
<rect x="132.10" y="315.50" width="9.90" height="52.70" fill="#D57026"/>
<rect x="142.00" y="318.65" width="9.90" height="49.55" fill="#949494"/>
<rect x="151.90" y="319.80" width="9.90" height="48.40" fill="#E4AB00"/>
<rect x="161.80" y="341.50" width="9.90" height="26.70" fill="#508AC0"/>
<rect x="171.70" y="363.30" width="9.90" height="4.90" fill="#639C41"/>
<rect x="196.00" y="286.40" width="9.90" height="81.80" fill="#3E65AF"/>
<rect x="205.90" y="300.60" width="9.90" height="67.60" fill="#D57026"/>
<rect x="215.80" y="311.00" width="9.90" height="57.20" fill="#949494"/>
<rect x="225.70" y="312.80" width="9.90" height="55.40" fill="#E4AB00"/>
<rect x="235.60" y="332.80" width="9.90" height="35.40" fill="#508AC0"/>
<rect x="245.50" y="351.90" width="9.90" height="16.30" fill="#639C41"/>
<rect x="270.10" y="286.30" width="9.90" height="81.90" fill="#3E65AF"/>
<rect x="280.00" y="295.10" width="9.90" height="73.10" fill="#D57026"/>
<rect x="289.90" y="298.40" width="9.90" height="69.80" fill="#949494"/>
<rect x="299.80" y="317.00" width="9.90" height="51.20" fill="#E4AB00"/>
<rect x="309.70" y="324.60" width="9.90" height="43.60" fill="#508AC0"/>
<rect x="319.60" y="343.00" width="9.90" height="25.20" fill="#639C41"/>
<line x1="52.75" y1="286.20" x2="52.75" y2="284.10" stroke="#1a1a1a" stroke-width="0.9"/>
<rect x="51.05" y="284" width="3.40" height="1" fill="#1a1a1a" fill-opacity="0.85"/>
<line x1="62.65" y1="286.20" x2="62.65" y2="284.10" stroke="#1a1a1a" stroke-width="0.9"/>
<rect x="60.95" y="284" width="3.40" height="1" fill="#1a1a1a" fill-opacity="0.85"/>
<line x1="72.55" y1="286.20" x2="72.55" y2="284.10" stroke="#1a1a1a" stroke-width="0.9"/>
<rect x="70.85" y="284" width="3.40" height="1" fill="#1a1a1a" fill-opacity="0.85"/>
<line x1="82.45" y1="286.20" x2="82.45" y2="284.10" stroke="#1a1a1a" stroke-width="0.9"/>
<rect x="80.75" y="284" width="3.40" height="1" fill="#1a1a1a" fill-opacity="0.85"/>
<line x1="92.35" y1="286.20" x2="92.35" y2="284.10" stroke="#1a1a1a" stroke-width="0.9"/>
<rect x="90.65" y="284" width="3.40" height="1" fill="#1a1a1a" fill-opacity="0.85"/>
<line x1="102.25" y1="286.20" x2="102.25" y2="284.10" stroke="#1a1a1a" stroke-width="0.9"/>
<rect x="100.55" y="284" width="3.40" height="1" fill="#1a1a1a" fill-opacity="0.85"/>
<line x1="127.15" y1="286.20" x2="127.15" y2="284.40" stroke="#1a1a1a" stroke-width="0.9"/>
<rect x="125.45" y="284" width="3.40" height="1" fill="#1a1a1a" fill-opacity="0.85"/>
<rect x="135.35" y="316" width="3.40" height="1" fill="#1a1a1a" fill-opacity="0.85"/>
<rect x="145.25" y="319" width="3.40" height="1" fill="#1a1a1a" fill-opacity="0.85"/>
<rect x="155.15" y="320" width="3.40" height="1" fill="#1a1a1a" fill-opacity="0.85"/>
<line x1="166.75" y1="341.50" x2="166.75" y2="340.30" stroke="#1a1a1a" stroke-width="0.9"/>
<rect x="165.05" y="340" width="3.40" height="1" fill="#1a1a1a" fill-opacity="0.85"/>
<line x1="176.65" y1="363.30" x2="176.65" y2="362.10" stroke="#1a1a1a" stroke-width="0.9"/>
<rect x="174.95" y="362" width="3.40" height="1" fill="#1a1a1a" fill-opacity="0.85"/>
<line x1="200.95" y1="286.40" x2="200.95" y2="284.40" stroke="#1a1a1a" stroke-width="0.9"/>
<rect x="199.25" y="284" width="3.40" height="1" fill="#1a1a1a" fill-opacity="0.85"/>
<rect x="209.15" y="301" width="3.40" height="1" fill="#1a1a1a" fill-opacity="0.85"/>
<rect x="219.05" y="311" width="3.40" height="1" fill="#1a1a1a" fill-opacity="0.85"/>
<rect x="228.95" y="313" width="3.40" height="1" fill="#1a1a1a" fill-opacity="0.85"/>
<rect x="238.85" y="333" width="3.40" height="1" fill="#1a1a1a" fill-opacity="0.85"/>
<rect x="248.75" y="352" width="3.40" height="1" fill="#1a1a1a" fill-opacity="0.85"/>
<line x1="275.05" y1="286.30" x2="275.05" y2="284.30" stroke="#1a1a1a" stroke-width="0.9"/>
<rect x="273.35" y="284" width="3.40" height="1" fill="#1a1a1a" fill-opacity="0.85"/>
<rect x="283.25" y="295" width="3.40" height="1" fill="#1a1a1a" fill-opacity="0.85"/>
<rect x="293.15" y="299" width="3.40" height="1" fill="#1a1a1a" fill-opacity="0.85"/>
<line x1="304.75" y1="317.00" x2="304.75" y2="315.80" stroke="#1a1a1a" stroke-width="0.9"/>
<rect x="303.05" y="315" width="3.40" height="1" fill="#1a1a1a" fill-opacity="0.85"/>
<rect x="312.95" y="325" width="3.40" height="1" fill="#1a1a1a" fill-opacity="0.85"/>
<rect x="322.85" y="343" width="3.40" height="1" fill="#1a1a1a" fill-opacity="0.85"/>
<line x1="40.50" y1="273.80" x2="40.50" y2="371.00" stroke="#8C8C8C" stroke-width="1"/>
<line x1="40.50" y1="368.20" x2="337.00" y2="368.20" stroke="#8C8C8C" stroke-width="1"/>
<line x1="37.90" y1="368.20" x2="40.50" y2="368.20" stroke="#8C8C8C" stroke-width="1"/>
<text x="32.80" y="371.10" font-size="8.0" text-anchor="end" font-weight="bold" >0.0</text>
<line x1="37.90" y1="349.32" x2="40.50" y2="349.32" stroke="#8C8C8C" stroke-width="1"/>
<text x="32.80" y="352.22" font-size="8.0" text-anchor="end" font-weight="bold" >0.4</text>
<line x1="37.90" y1="330.44" x2="40.50" y2="330.44" stroke="#8C8C8C" stroke-width="1"/>
<text x="32.80" y="333.34" font-size="8.0" text-anchor="end" font-weight="bold" >0.8</text>
<line x1="37.90" y1="311.56" x2="40.50" y2="311.56" stroke="#8C8C8C" stroke-width="1"/>
<text x="32.80" y="314.46" font-size="8.0" text-anchor="end" font-weight="bold" >1.2</text>
<line x1="37.90" y1="292.68" x2="40.50" y2="292.68" stroke="#8C8C8C" stroke-width="1"/>
<text x="32.80" y="295.58" font-size="8.0" text-anchor="end" font-weight="bold" >1.6</text>
<line x1="37.90" y1="273.80" x2="40.50" y2="273.80" stroke="#8C8C8C" stroke-width="1"/>
<text x="32.80" y="276.70" font-size="8.0" text-anchor="end" font-weight="bold" >2.0</text>
<line x1="40.50" y1="368.20" x2="40.50" y2="371.00" stroke="#8C8C8C" stroke-width="1"/>
<line x1="114.30" y1="368.20" x2="114.30" y2="371.00" stroke="#8C8C8C" stroke-width="1"/>
<line x1="188.50" y1="368.20" x2="188.50" y2="371.00" stroke="#8C8C8C" stroke-width="1"/>
<line x1="262.70" y1="368.20" x2="262.70" y2="371.00" stroke="#8C8C8C" stroke-width="1"/>
<line x1="336.90" y1="368.20" x2="336.90" y2="371.00" stroke="#8C8C8C" stroke-width="1"/>
<text x="76.70" y="381.00" font-size="8.5" text-anchor="middle" font-weight="bold" >Day 0</text>
<text x="152.40" y="381.00" font-size="8.5" text-anchor="middle" font-weight="bold" >Day 10 OD</text>
<text x="226.30" y="381.00" font-size="8.5" text-anchor="middle" font-weight="bold" >Day 10 POD</text>
<text x="300.30" y="381.00" font-size="8.5" text-anchor="middle" font-weight="bold" >Day 22 POD</text>
<text transform="translate(7.60,324.40) rotate(-90)" font-size="8.7" text-anchor="middle" font-weight="bold">Superoxide dismutase</text>
<text transform="translate(16.80,325.40) rotate(-90)" font-size="8.9" text-anchor="middle" font-weight="bold">(U/mL)</text>
<text transform="translate(52.80,282.00) scale(1.0,1.12)" font-size="7.1" text-anchor="middle" font-weight="bold" class="bl">1a</text>
<text transform="translate(62.80,282.00) scale(1.0,1.12)" font-size="7.1" text-anchor="middle" font-weight="bold" class="bl">1a</text>
<text transform="translate(72.70,282.00) scale(1.0,1.12)" font-size="7.1" text-anchor="middle" font-weight="bold" class="bl">1a</text>
<text transform="translate(82.80,282.00) scale(1.0,1.12)" font-size="7.1" text-anchor="middle" font-weight="bold" class="bl">1a</text>
<text transform="translate(92.40,282.00) scale(1.0,1.12)" font-size="7.1" text-anchor="middle" font-weight="bold" class="bl">1a</text>
<text transform="translate(102.40,282.00) scale(1.0,1.12)" font-size="7.1" text-anchor="middle" font-weight="bold" class="bl">1a</text>
<text transform="translate(126.80,281.90) scale(1.0,1.12)" font-size="7.1" text-anchor="middle" font-weight="bold" class="bl">1a</text>
<text transform="translate(137.00,311.10) scale(1.0,1.12)" font-size="7.1" text-anchor="middle" font-weight="bold" class="bl">2b</text>
<text transform="translate(146.80,314.40) scale(1.0,1.12)" font-size="7.1" text-anchor="middle" font-weight="bold" class="bl">2c</text>
<text transform="translate(157.00,315.80) scale(1.0,1.12)" font-size="7.1" text-anchor="middle" font-weight="bold" class="bl">2d</text>
<text transform="translate(166.50,336.90) scale(1.0,1.12)" font-size="7.1" text-anchor="middle" font-weight="bold" class="bl">2e</text>
<text transform="translate(176.70,359.00) scale(1.0,1.12)" font-size="7.1" text-anchor="middle" font-weight="bold" class="bl">2f</text>
<text transform="translate(201.00,282.30) scale(1.0,1.12)" font-size="7.1" text-anchor="middle" font-weight="bold" class="bl">1a</text>
<text transform="translate(210.90,295.80) scale(1.0,1.12)" font-size="7.1" text-anchor="middle" font-weight="bold" class="bl">3b</text>
<text transform="translate(221.20,306.40) scale(1.0,1.12)" font-size="7.1" text-anchor="middle" font-weight="bold" class="bl">3c</text>
<text transform="translate(231.30,308.60) scale(1.0,1.12)" font-size="7.1" text-anchor="middle" font-weight="bold" class="bl">3c</text>
<text transform="translate(241.00,328.60) scale(1.0,1.12)" font-size="7.1" text-anchor="middle" font-weight="bold" class="bl">3d</text>
<text transform="translate(250.60,347.40) scale(1.0,1.12)" font-size="7.1" text-anchor="middle" font-weight="bold" class="bl">3e</text>
<text transform="translate(275.30,281.90) scale(1.0,1.12)" font-size="7.1" text-anchor="middle" font-weight="bold" class="bl">1a</text>
<text transform="translate(285.50,290.50) scale(1.0,1.12)" font-size="7.1" text-anchor="middle" font-weight="bold" class="bl">4b</text>
<text transform="translate(295.40,294.20) scale(1.0,1.12)" font-size="7.1" text-anchor="middle" font-weight="bold" class="bl">4c</text>
<text transform="translate(305.20,313.00) scale(1.0,1.12)" font-size="7.1" text-anchor="middle" font-weight="bold" class="bl">4d</text>
<text transform="translate(314.90,320.60) scale(1.0,1.12)" font-size="7.1" text-anchor="middle" font-weight="bold" class="bl">4e</text>
<text transform="translate(325.20,338.90) scale(1.0,1.12)" font-size="7.1" text-anchor="middle" font-weight="bold" class="bl">4f</text>
<text x="0.60" y="268.70" font-size="9.7" text-anchor="start" font-weight="bold" class="tag">[e]</text>
<rect x="73.70" y="4.50" width="4.20" height="4.20" fill="#3E65AF"/>
<text x="80.00" y="9.20" font-size="8.6" text-anchor="start" font-weight="bold" >0 mg (0&#215;)</text>
<rect x="168.00" y="4.50" width="4.20" height="4.20" fill="#D57026"/>
<text x="174.30" y="9.20" font-size="8.6" text-anchor="start" font-weight="bold" >40 mg (0.5&#215;)</text>
<rect x="261.60" y="4.50" width="4.20" height="4.20" fill="#949494"/>
<text x="267.90" y="9.20" font-size="8.6" text-anchor="start" font-weight="bold" >80 mg (1&#215;)</text>
<rect x="73.70" y="18.40" width="4.20" height="4.20" fill="#E4AB00"/>
<text x="80.00" y="22.90" font-size="8.6" text-anchor="start" font-weight="bold" >240 mg (3&#215;)</text>
<rect x="168.00" y="18.40" width="4.20" height="4.20" fill="#508AC0"/>
<text x="174.30" y="22.90" font-size="8.6" text-anchor="start" font-weight="bold" >400 mg (5&#215;)</text>
<rect x="261.60" y="18.40" width="4.20" height="4.20" fill="#639C41"/>
<text x="267.90" y="22.90" font-size="8.6" text-anchor="start" font-weight="bold" >800 mg (10&#215;)</text>
<rect x="408.60" y="6.10" width="4.20" height="4.20" fill="#3E65AF"/>
<text x="414.90" y="10.60" font-size="8.6" text-anchor="start" font-weight="bold" >0 mg (0&#215;)</text>
<rect x="505.90" y="6.10" width="4.20" height="4.20" fill="#D57026"/>
<text x="512.20" y="10.60" font-size="8.6" text-anchor="start" font-weight="bold" >40 mg (0.5&#215;)</text>
<rect x="603.20" y="6.10" width="4.20" height="4.20" fill="#949494"/>
<text x="609.50" y="10.60" font-size="8.6" text-anchor="start" font-weight="bold" >80 mg (1&#215;)</text>
<rect x="408.60" y="18.40" width="4.20" height="4.20" fill="#E4AB00"/>
<text x="414.90" y="22.90" font-size="8.6" text-anchor="start" font-weight="bold" >240 mg (3&#215;)</text>
<rect x="505.90" y="18.40" width="4.20" height="4.20" fill="#508AC0"/>
<text x="512.20" y="22.90" font-size="8.6" text-anchor="start" font-weight="bold" >400 mg (5&#215;)</text>
<rect x="603.20" y="18.40" width="4.20" height="4.20" fill="#639C41"/>
<text x="609.50" y="22.90" font-size="8.6" text-anchor="start" font-weight="bold" >800 mg (10&#215;)</text>
</svg>
</body></html>
